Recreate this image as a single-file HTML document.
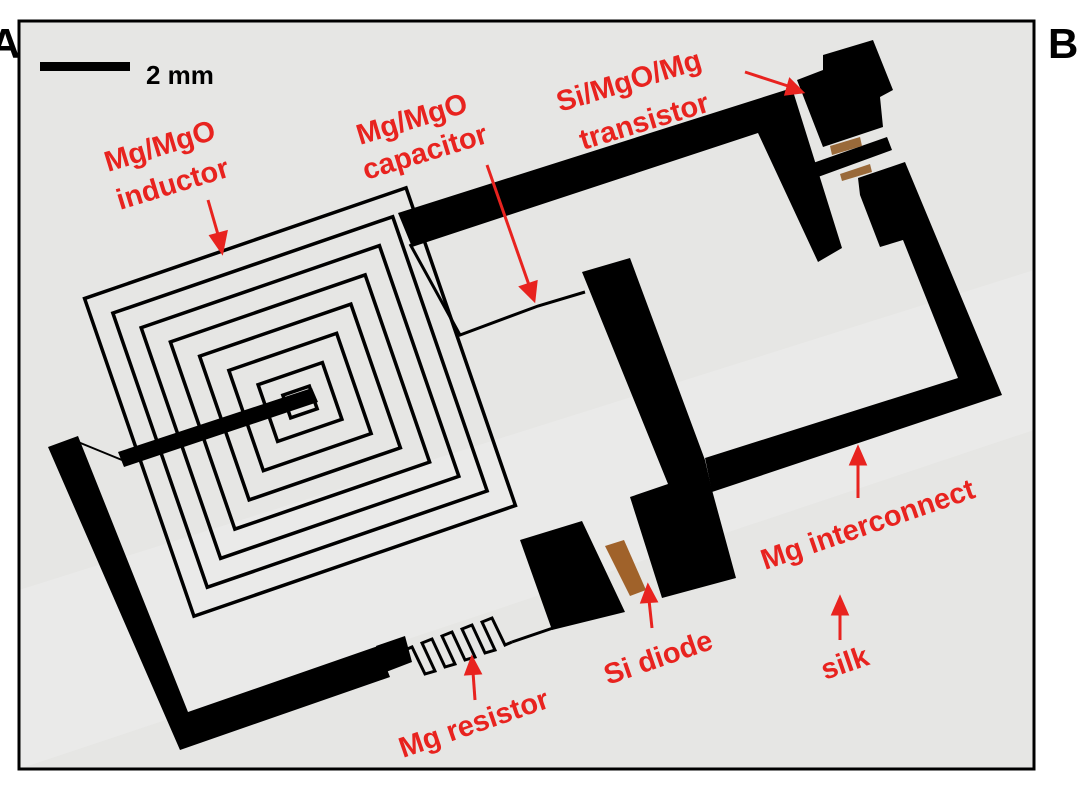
<!DOCTYPE html>
<html><head><meta charset="utf-8"><style>
html,body{margin:0;padding:0;background:#fff;width:1080px;height:788px;overflow:hidden}
svg{display:block}
text{font-family:"Liberation Sans",sans-serif;font-weight:bold}
.r{fill:#e8231f}
</style></head><body>
<svg width="1080" height="788" viewBox="0 0 1080 788">
<defs><clipPath id="c"><rect x="19" y="21" width="1015" height="748"/></clipPath></defs>
<rect x="0" y="0" width="1080" height="788" fill="#fff"/>
<rect x="19" y="21" width="1015" height="748" fill="#e6e6e4"/>
<g clip-path="url(#c)">
<polygon points="19,590 1034,270 1034,430 19,769" fill="#ebebea" opacity="0.8"/>
</g>

<!-- inductor -->
<g transform="translate(300,402) rotate(-19)" fill="none" stroke="#000" stroke-width="3.5">
<rect x="-170" y="-168" width="340" height="336"/>
<rect x="-148" y="-145" width="296" height="290"/>
<rect x="-126" y="-122" width="252" height="244"/>
<rect x="-103" y="-99" width="206" height="198"/>
<rect x="-80" y="-76" width="160" height="152"/>
<rect x="-57" y="-53" width="114" height="106"/>
<rect x="-34" y="-30" width="68" height="60"/>
<rect x="-14" y="-12" width="28" height="24"/>
</g>
<polygon points="118,452 312,388 318,402 124,467" fill="#000"/>
<line x1="78" y1="442" x2="122" y2="460" stroke="#000" stroke-width="2"/>

<!-- capacitor trace -->
<polyline points="410,244 460,335 538,306 585,292" fill="none" stroke="#000" stroke-width="3"/>

<!-- top bar + vertical -->
<polygon points="398,213 792,88 842,248 818,262 758,133 412,247" fill="#000"/>
<!-- transistor pad -->
<polygon points="797,80 823,70 823,55 873,40 893,90 880,97 883,127 823,147" fill="#000"/>
<polygon points="813,163 887,137 892,150 818,177" fill="#000"/>
<polygon points="830,146 860,137 862,146 832,155" fill="#9a6a3a"/>
<polygon points="840,174 870,164 872,172 842,181" fill="#9a6a3a"/>
<!-- right loop -->
<polygon points="858,178 905,162 1002,395 712,492 705,458 958,378 903,240 880,247 860,195" fill="#000"/>
<!-- tall bar -->
<polygon points="582,272 630,258 705,460 712,490 736,578 662,598 630,497 668,484" fill="#000"/>
<!-- diode left pad -->
<polygon points="520,540 582,521 625,612 552,630" fill="#000"/>
<polygon points="605,546 624,540 646,590 630,596" fill="#a0622a"/>
<line x1="553" y1="628" x2="512" y2="642" stroke="#000" stroke-width="3"/>
<!-- resistor meander -->
<polyline points="512,642 505,645 492,618 482,622 495,650 485,653 472,625 462,629 475,657 465,660 452,632 442,636 455,664 445,667 432,639 422,643 435,671 425,674 412,647 405,650" fill="none" stroke="#000" stroke-width="3"/>
<!-- L bar -->
<polygon points="48,447 78,436 188,712 378,646 390,677 180,750" fill="#000"/>
<polygon points="376,646 405,636 412,662 386,672" fill="#000"/>

<!-- frame -->
<rect x="19" y="21" width="1015" height="748" fill="none" stroke="#000" stroke-width="3"/>
<rect x="40" y="62" width="90" height="9" fill="#000"/>
<text x="146" y="84" font-size="26" fill="#000">2 mm</text>
<text x="-10" y="58" font-size="42" fill="#000">A</text>
<text x="1048" y="58" font-size="42" fill="#000">B</text>

<!-- labels -->
<g class="r" font-size="29">
<text transform="translate(108,172) rotate(-17)">Mg/MgO</text>
<text transform="translate(120,210) rotate(-17)">inductor</text>
<text transform="translate(360,145) rotate(-17)">Mg/MgO</text>
<text transform="translate(366,180) rotate(-17)">capacitor</text>
<text transform="translate(560,112) rotate(-17)">Si/MgO/Mg</text>
<text transform="translate(583,150) rotate(-17)">transistor</text>
<text transform="translate(765,570) rotate(-19)">Mg interconnect</text>
<text transform="translate(825,680) rotate(-19)">silk</text>
<text transform="translate(608,685) rotate(-19)">Si diode</text>
<text transform="translate(403,758) rotate(-19)">Mg resistor</text>
</g>
<g stroke="#e8231f" stroke-width="3" fill="#e8231f">
<line x1="208" y1="200" x2="219" y2="238"/><polygon points="222,252 211,236 226,232"/>
<line x1="487" y1="165" x2="529" y2="285"/><polygon points="534,300 521,287 536,282"/>
<line x1="745" y1="72" x2="788" y2="86"/><polygon points="802,92 786,94 790,80"/>
<line x1="858" y1="498" x2="858" y2="462"/><polygon points="858,448 851,464 865,464"/>
<line x1="840" y1="640" x2="840" y2="612"/><polygon points="840,598 833,614 847,614"/>
<line x1="652" y1="628" x2="649" y2="600"/><polygon points="648,586 642,602 656,601"/>
<line x1="475" y1="700" x2="473" y2="672"/><polygon points="472,658 466,674 480,673"/>
</g>
</svg>
</body></html>
